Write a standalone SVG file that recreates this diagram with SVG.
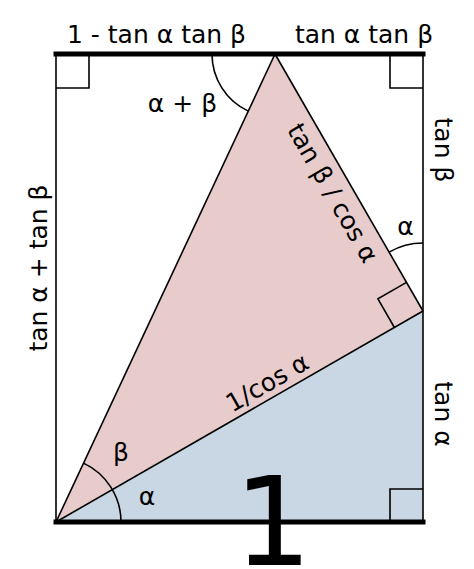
<svg xmlns="http://www.w3.org/2000/svg" width="474" height="569" viewBox="0 0 474 569">
  <style>
    .thin { fill: none; stroke: #000; stroke-width: 1.6; stroke-linejoin: miter; }
    .thick { fill: none; stroke: #000; stroke-width: 5; stroke-linecap: square; }
    .lbl { font-family: "DejaVu Sans", "Liberation Sans", sans-serif; font-size: 25px; fill: #000; text-anchor: middle; }
    .big { font-family: "DejaVu Sans", "Liberation Sans", sans-serif; font-size: 123px; fill: #000; text-anchor: middle; }
  </style>
  <rect width="474" height="569" fill="#fff"/>
  <g id="fills">
    <polygon id="pink-triangle" points="56,522 275,54 423,311" fill="#e8cccc"/>
    <polygon id="blue-triangle" points="56,522 423,311 423,522" fill="#c9d7e4"/>
  </g>
  <g id="connectors">
    <line class="thin" x1="56" y1="54" x2="56" y2="522"/>
    <line class="thin" x1="423" y1="54" x2="423" y2="522"/>
    <line class="thin" x1="56" y1="522" x2="275" y2="54"/>
    <line class="thin" x1="275" y1="54" x2="423" y2="311"/>
    <line class="thin" x1="56" y1="522" x2="423" y2="311"/>
    <line class="thick" x1="56" y1="54" x2="423" y2="54"/>
    <line class="thick" x1="56" y1="522" x2="423" y2="522"/>
  </g>
  <g id="right-angles">
    <path class="thin" d="M56,88 H89 V54"/>
    <path class="thin" d="M423,88 H390 V54"/>
    <path class="thin" d="M423,489 H390 V522"/>
    <path class="thin" d="M394.4,327.5 L377.9,298.9 L406.5,282.4"/>
  </g>
  <g id="angle-arcs">
    <path class="thin" d="M212,54 A63,63 0 0 0 248.3,111.1"/>
    <path class="thin" d="M423,243 A68,68 0 0 0 389.1,252.1"/>
    <path class="thin" d="M121,522 A65,65 0 0 0 83.5,463.1"/>
  </g>
  <g id="labels">
    <text class="lbl" x="156.5" y="43">1 - tan α tan β</text>
    <text class="lbl" x="364" y="43">tan α tan β</text>
    <text class="lbl" x="182.5" y="112">α + β</text>
    <text class="lbl" transform="translate(435,150) rotate(90)">tan β</text>
    <text class="lbl" transform="translate(435,414) rotate(90)">tan α</text>
    <text class="lbl" transform="translate(47,268) rotate(-90)">tan α + tan β</text>
    <text class="lbl" transform="translate(325.4,197.3) rotate(60.06)">tan β / cos α</text>
    <text class="lbl" transform="translate(271.5,390) rotate(-29.9)">1/cos α</text>
    <text class="lbl" x="405.5" y="235">α</text>
    <text class="lbl" x="121" y="461">β</text>
    <text class="lbl" x="147" y="505">α</text>
    <text class="big" x="273" y="565">1</text>
  </g>
</svg>
